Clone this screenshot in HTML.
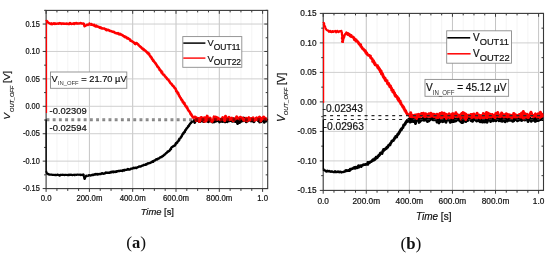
<!DOCTYPE html>
<html><head><meta charset="utf-8"><title>Figure</title>
<style>html,body{margin:0;padding:0;background:#fff;width:550px;height:257px;overflow:hidden}svg{display:block;filter:blur(0.3px)}</style>
</head><body>
<svg width="550" height="257" viewBox="0 0 550 257" font-family="Liberation Sans, Arial, sans-serif">
<rect width="550" height="257" fill="#fff"/>
<line x1="56.93" y1="10.4" x2="56.93" y2="188.6" stroke="#f3f3f3" stroke-width="0.9"/>
<line x1="67.75" y1="10.4" x2="67.75" y2="188.6" stroke="#f3f3f3" stroke-width="0.9"/>
<line x1="78.58" y1="10.4" x2="78.58" y2="188.6" stroke="#f3f3f3" stroke-width="0.9"/>
<line x1="100.23" y1="10.4" x2="100.23" y2="188.6" stroke="#f3f3f3" stroke-width="0.9"/>
<line x1="111.05" y1="10.4" x2="111.05" y2="188.6" stroke="#f3f3f3" stroke-width="0.9"/>
<line x1="121.88" y1="10.4" x2="121.88" y2="188.6" stroke="#f3f3f3" stroke-width="0.9"/>
<line x1="143.53" y1="10.4" x2="143.53" y2="188.6" stroke="#f3f3f3" stroke-width="0.9"/>
<line x1="154.35" y1="10.4" x2="154.35" y2="188.6" stroke="#f3f3f3" stroke-width="0.9"/>
<line x1="165.18" y1="10.4" x2="165.18" y2="188.6" stroke="#f3f3f3" stroke-width="0.9"/>
<line x1="186.83" y1="10.4" x2="186.83" y2="188.6" stroke="#f3f3f3" stroke-width="0.9"/>
<line x1="197.65" y1="10.4" x2="197.65" y2="188.6" stroke="#f3f3f3" stroke-width="0.9"/>
<line x1="208.48" y1="10.4" x2="208.48" y2="188.6" stroke="#f3f3f3" stroke-width="0.9"/>
<line x1="230.13" y1="10.4" x2="230.13" y2="188.6" stroke="#f3f3f3" stroke-width="0.9"/>
<line x1="240.95" y1="10.4" x2="240.95" y2="188.6" stroke="#f3f3f3" stroke-width="0.9"/>
<line x1="251.78" y1="10.4" x2="251.78" y2="188.6" stroke="#f3f3f3" stroke-width="0.9"/>
<line x1="89.4" y1="10.4" x2="89.4" y2="188.6" stroke="#c4c4c4" stroke-width="1"/>
<line x1="132.7" y1="10.4" x2="132.7" y2="188.6" stroke="#c4c4c4" stroke-width="1"/>
<line x1="176" y1="10.4" x2="176" y2="188.6" stroke="#c4c4c4" stroke-width="1"/>
<line x1="219.3" y1="10.4" x2="219.3" y2="188.6" stroke="#c4c4c4" stroke-width="1"/>
<line x1="262.6" y1="10.4" x2="262.6" y2="188.6" stroke="#c4c4c4" stroke-width="1"/>
<line x1="46.1" y1="24.04" x2="267.7" y2="24.04" stroke="#cccccc" stroke-width="0.95"/>
<line x1="46.1" y1="51.46" x2="267.7" y2="51.46" stroke="#cccccc" stroke-width="0.95"/>
<line x1="46.1" y1="78.88" x2="267.7" y2="78.88" stroke="#cccccc" stroke-width="0.95"/>
<line x1="46.1" y1="106.3" x2="267.7" y2="106.3" stroke="#cccccc" stroke-width="0.95"/>
<line x1="46.1" y1="133.72" x2="267.7" y2="133.72" stroke="#cccccc" stroke-width="0.95"/>
<line x1="46.1" y1="161.14" x2="267.7" y2="161.14" stroke="#cccccc" stroke-width="0.95"/>
<rect x="46.1" y="10.4" width="221.6" height="178.2" fill="none" stroke="#383838" stroke-width="1.1"/>
<line x1="46.1" y1="188.6" x2="46.1" y2="191.9" stroke="#383838" stroke-width="1"/>
<line x1="46.1" y1="10.4" x2="46.1" y2="13.8" stroke="#383838" stroke-width="1"/>
<line x1="56.93" y1="188.6" x2="56.93" y2="190.9" stroke="#383838" stroke-width="1"/>
<line x1="56.93" y1="10.4" x2="56.93" y2="12.4" stroke="#383838" stroke-width="1"/>
<line x1="67.75" y1="188.6" x2="67.75" y2="190.9" stroke="#383838" stroke-width="1"/>
<line x1="67.75" y1="10.4" x2="67.75" y2="12.4" stroke="#383838" stroke-width="1"/>
<line x1="78.58" y1="188.6" x2="78.58" y2="190.9" stroke="#383838" stroke-width="1"/>
<line x1="78.58" y1="10.4" x2="78.58" y2="12.4" stroke="#383838" stroke-width="1"/>
<line x1="89.4" y1="188.6" x2="89.4" y2="191.9" stroke="#383838" stroke-width="1"/>
<line x1="89.4" y1="10.4" x2="89.4" y2="13.8" stroke="#383838" stroke-width="1"/>
<line x1="100.23" y1="188.6" x2="100.23" y2="190.9" stroke="#383838" stroke-width="1"/>
<line x1="100.23" y1="10.4" x2="100.23" y2="12.4" stroke="#383838" stroke-width="1"/>
<line x1="111.05" y1="188.6" x2="111.05" y2="190.9" stroke="#383838" stroke-width="1"/>
<line x1="111.05" y1="10.4" x2="111.05" y2="12.4" stroke="#383838" stroke-width="1"/>
<line x1="121.88" y1="188.6" x2="121.88" y2="190.9" stroke="#383838" stroke-width="1"/>
<line x1="121.88" y1="10.4" x2="121.88" y2="12.4" stroke="#383838" stroke-width="1"/>
<line x1="132.7" y1="188.6" x2="132.7" y2="191.9" stroke="#383838" stroke-width="1"/>
<line x1="132.7" y1="10.4" x2="132.7" y2="13.8" stroke="#383838" stroke-width="1"/>
<line x1="143.53" y1="188.6" x2="143.53" y2="190.9" stroke="#383838" stroke-width="1"/>
<line x1="143.53" y1="10.4" x2="143.53" y2="12.4" stroke="#383838" stroke-width="1"/>
<line x1="154.35" y1="188.6" x2="154.35" y2="190.9" stroke="#383838" stroke-width="1"/>
<line x1="154.35" y1="10.4" x2="154.35" y2="12.4" stroke="#383838" stroke-width="1"/>
<line x1="165.18" y1="188.6" x2="165.18" y2="190.9" stroke="#383838" stroke-width="1"/>
<line x1="165.18" y1="10.4" x2="165.18" y2="12.4" stroke="#383838" stroke-width="1"/>
<line x1="176" y1="188.6" x2="176" y2="191.9" stroke="#383838" stroke-width="1"/>
<line x1="176" y1="10.4" x2="176" y2="13.8" stroke="#383838" stroke-width="1"/>
<line x1="186.83" y1="188.6" x2="186.83" y2="190.9" stroke="#383838" stroke-width="1"/>
<line x1="186.83" y1="10.4" x2="186.83" y2="12.4" stroke="#383838" stroke-width="1"/>
<line x1="197.65" y1="188.6" x2="197.65" y2="190.9" stroke="#383838" stroke-width="1"/>
<line x1="197.65" y1="10.4" x2="197.65" y2="12.4" stroke="#383838" stroke-width="1"/>
<line x1="208.48" y1="188.6" x2="208.48" y2="190.9" stroke="#383838" stroke-width="1"/>
<line x1="208.48" y1="10.4" x2="208.48" y2="12.4" stroke="#383838" stroke-width="1"/>
<line x1="219.3" y1="188.6" x2="219.3" y2="191.9" stroke="#383838" stroke-width="1"/>
<line x1="219.3" y1="10.4" x2="219.3" y2="13.8" stroke="#383838" stroke-width="1"/>
<line x1="230.13" y1="188.6" x2="230.13" y2="190.9" stroke="#383838" stroke-width="1"/>
<line x1="230.13" y1="10.4" x2="230.13" y2="12.4" stroke="#383838" stroke-width="1"/>
<line x1="240.95" y1="188.6" x2="240.95" y2="190.9" stroke="#383838" stroke-width="1"/>
<line x1="240.95" y1="10.4" x2="240.95" y2="12.4" stroke="#383838" stroke-width="1"/>
<line x1="251.78" y1="188.6" x2="251.78" y2="190.9" stroke="#383838" stroke-width="1"/>
<line x1="251.78" y1="10.4" x2="251.78" y2="12.4" stroke="#383838" stroke-width="1"/>
<line x1="262.6" y1="188.6" x2="262.6" y2="191.9" stroke="#383838" stroke-width="1"/>
<line x1="262.6" y1="10.4" x2="262.6" y2="13.8" stroke="#383838" stroke-width="1"/>
<line x1="42.7" y1="188.56" x2="46.1" y2="188.56" stroke="#383838" stroke-width="1"/>
<line x1="264.3" y1="188.56" x2="267.7" y2="188.56" stroke="#383838" stroke-width="1"/>
<line x1="44.1" y1="174.85" x2="46.1" y2="174.85" stroke="#383838" stroke-width="1"/>
<line x1="265.7" y1="174.85" x2="267.7" y2="174.85" stroke="#383838" stroke-width="1"/>
<line x1="42.7" y1="161.14" x2="46.1" y2="161.14" stroke="#383838" stroke-width="1"/>
<line x1="264.3" y1="161.14" x2="267.7" y2="161.14" stroke="#383838" stroke-width="1"/>
<line x1="44.1" y1="147.43" x2="46.1" y2="147.43" stroke="#383838" stroke-width="1"/>
<line x1="265.7" y1="147.43" x2="267.7" y2="147.43" stroke="#383838" stroke-width="1"/>
<line x1="42.7" y1="133.72" x2="46.1" y2="133.72" stroke="#383838" stroke-width="1"/>
<line x1="264.3" y1="133.72" x2="267.7" y2="133.72" stroke="#383838" stroke-width="1"/>
<line x1="44.1" y1="120.01" x2="46.1" y2="120.01" stroke="#383838" stroke-width="1"/>
<line x1="265.7" y1="120.01" x2="267.7" y2="120.01" stroke="#383838" stroke-width="1"/>
<line x1="42.7" y1="106.3" x2="46.1" y2="106.3" stroke="#383838" stroke-width="1"/>
<line x1="264.3" y1="106.3" x2="267.7" y2="106.3" stroke="#383838" stroke-width="1"/>
<line x1="44.1" y1="92.59" x2="46.1" y2="92.59" stroke="#383838" stroke-width="1"/>
<line x1="265.7" y1="92.59" x2="267.7" y2="92.59" stroke="#383838" stroke-width="1"/>
<line x1="42.7" y1="78.88" x2="46.1" y2="78.88" stroke="#383838" stroke-width="1"/>
<line x1="264.3" y1="78.88" x2="267.7" y2="78.88" stroke="#383838" stroke-width="1"/>
<line x1="44.1" y1="65.17" x2="46.1" y2="65.17" stroke="#383838" stroke-width="1"/>
<line x1="265.7" y1="65.17" x2="267.7" y2="65.17" stroke="#383838" stroke-width="1"/>
<line x1="42.7" y1="51.46" x2="46.1" y2="51.46" stroke="#383838" stroke-width="1"/>
<line x1="264.3" y1="51.46" x2="267.7" y2="51.46" stroke="#383838" stroke-width="1"/>
<line x1="44.1" y1="37.75" x2="46.1" y2="37.75" stroke="#383838" stroke-width="1"/>
<line x1="265.7" y1="37.75" x2="267.7" y2="37.75" stroke="#383838" stroke-width="1"/>
<line x1="42.7" y1="24.04" x2="46.1" y2="24.04" stroke="#383838" stroke-width="1"/>
<line x1="264.3" y1="24.04" x2="267.7" y2="24.04" stroke="#383838" stroke-width="1"/>
<line x1="44.1" y1="10.33" x2="46.1" y2="10.33" stroke="#383838" stroke-width="1"/>
<line x1="265.7" y1="10.33" x2="267.7" y2="10.33" stroke="#383838" stroke-width="1"/>
<line x1="46.15" y1="119.5" x2="46.15" y2="171" stroke="#000" stroke-width="1.25"/><polyline fill="none" stroke="#000" stroke-width="2.2" stroke-linejoin="round" points="46.15,171 46.3,171.5 46.44,172.06 46.69,172.93 47.29,173.7 47.66,173.73 48.36,174.3 48.66,173.97 49,174.43 49.55,174.72 49.95,174.77 50.54,174.61 51,174.68 51.51,174.57 51.99,174.82 52.57,174.84 53.07,174.77 53.51,174.88 54.09,174.88 54.5,175.07 55.19,174.84 55.39,175.04 55.99,174.94 56.48,175.09 57.13,174.81 57.36,174.57 57.95,174.87 58.5,174.95 58.85,175.19 59.56,175.59 59.94,174.85 60.28,174.9 60.89,175.07 61.39,174.88 62,174.86 62.65,174.72 62.95,174.71 63.56,174.96 64,175 64.54,175.05 65.06,174.75 65.38,174.81 65.95,174.92 66.53,174.98 67.03,174.8 67.33,174.91 68,175.22 68.58,174.88 68.93,174.62 69.3,175.08 70.16,174.72 70.4,175 71.07,174.89 71.5,174.71 72,174.94 72.51,175.17 73.02,174.82 73.42,174.77 73.93,174.8 74.71,175.21 74.72,174.76 75.56,174.75 76.07,174.7 76.44,174.94 76.9,174.76 77.39,174.72 78.15,174.69 78.65,174.74 78.92,174.86 79.56,174.78 80.1,174.55 80.8,175.04 81.15,174.72 81.79,174.79 82.23,175.06 82.82,174.61 83.35,174.4 83.71,174.88 83.91,175.53 84.02,175.86 84.12,176.42 84,176.88 84.24,177.67 84.32,178.1 84.35,178.74 84.67,178.89 84.79,178.9 85.04,178.37 85.04,177.24 85.36,177.23 85.65,176.67 85.94,176.19 86.25,175.6 86.82,176.02 87.6,175.4"/><polyline fill="none" stroke="#000" stroke-width="2.4" stroke-linejoin="round" points="87.6,175.4 88.13,175.37 88.34,175.62 88.87,175.19 89.52,175.34 89.94,175.32 90.84,175.45 91.54,175.16 92.33,174.82 92.97,175.04 93.78,174.72 94.18,174.46 94.92,174.7 95.5,174.04 96.06,174.33 96.8,174 97.36,174.52 98.03,174.03 98.54,174.31 99.3,174.18 99.66,173.91 100.39,173.96 100.81,174.06 101.47,173.53 102.22,173.17 102.68,173.64 103.45,173.76 103.96,173.48 104.32,173.46 105.13,173.28 105.68,172.58 106.32,172.86 106.81,172.71 107.31,172.8 108.02,172.76 108.61,172.63 109.4,172.68 110.08,172.26 110.79,172.53 111.24,171.74 111.7,172.17 112.46,171.72 112.98,171.58 113.31,172.14 113.97,171.66 114.95,171.72 115.17,172.08 116.12,171.34 116.73,171.79 117.37,171.12 117.96,171.21 118.7,170.93 119.31,171.09 119.84,170.84 120.73,170.68 120.98,170.66 121.82,170.94 122.37,171.03 122.79,170.29 123.91,170.63 124.13,169.98 124.73,170.23 125.42,169.9 126.23,169.9 126.84,169.74 127.4,169.51 127.81,168.95 128.55,169.56 129.31,169.38 129.97,169.44 130.47,169.23 131,168.66 131.56,168.58 132.29,168.42 132.86,168.48 133.5,167.78 134.26,168.17 134.65,168.1 135.59,167.62 136.17,167.83 136.44,168.01 137.2,167.41 137.81,167.29 138.36,167.03 138.9,166.43 139.52,166.45 140.15,166.35 140.68,166.5 141.21,166.2 141.72,165.84 142.32,165.65 142.87,165.6 143.56,165.05 143.98,164.97 144.61,164.89 145.2,164.79 145.75,164.23 146.43,164.6 146.98,163.75 147.76,163.43 148.14,163.2 148.44,163.48 149.3,163.18 149.75,162.98 150.29,162.85 150.82,162.44 151.28,162.26 151.88,162.05 152.54,161.32 153.18,161.74 153.72,160.92 154.19,160.65 154.49,160.51 155.22,160.25 155.73,159.74 156.36,159.25 157.24,159.54 157.71,159.05 157.86,158.71 158.66,158.53 159.13,158.12 159.45,158.1 159.97,157.33 160.61,157.25 161.46,157.17 161.87,156.45 162.38,156.43 162.71,156.11 163.47,155.67 163.6,155.33 164.29,154.92 164.53,154.48 164.94,154.39 165.58,153.75 166.25,152.92 166.49,152.88 167.12,152.51 167.62,151.45 168.31,151.56 168.74,151.12 169.18,150.8 169.65,150.61 170.06,150.06 170.21,149.44 170.99,149.16 171.04,148.23 171.43,147.48 172.23,147.03 172.74,146.54 172.82,146.49 173.48,146.19 173.96,145.83 175.18,145.31 175.44,144.18 175.73,144.06 175.88,143.3 176.36,143.45 176.63,143.29 177.44,142.45 177.33,141.73 177.82,141.4 178.22,141.1 178.62,140.17 179.14,140.49 179.35,138.6 179.83,138.54 180.37,138.18 180.61,137.93 180.84,137.26 181.36,136.79 181.5,136.32 181.93,135.99 182.16,135.12 182.54,134.46 183.1,133.37 183.3,133.67 183.73,133.26 183.72,132.57 184.44,131.9 184.95,131.85 184.91,131.3 185.45,129.92 185.82,130.01 186.12,129.4 186.54,128.49 186.92,128.2 187.24,127.89 187.63,127.32 188.06,126.91 188.29,126.08 188.7,126.17 189.1,125.51 189.29,124.68 189.73,124.43 189.84,124.15 190.49,123.22 190.7,123.19 191.38,122.37 191.81,121.91 192.44,121.49 192.61,121.15 192.8,120.8"/><polyline fill="none" stroke="#000" stroke-width="2.9" stroke-linejoin="round" points="192.8,120.6 193.63,120.59 194.29,121.45 194.76,122.46 195.45,119.88 196.43,120.47 197.07,120.57 197.73,118.4 198.63,119.55 199.23,121.61 199.89,120.52 200.48,121.35 201.21,120.02 201.85,119.89 202.54,120.26 203.14,121.47 203.96,121.53 204.57,119.96 205.4,120.42 206.07,120.8 207.06,120.69 207.47,121.05 208.23,121.68 209.02,121.26 209.41,120.13 210.41,120.18 211.1,120.14 211.69,121.7 212.65,121.99 213.29,121.81 214.13,121.83 214.56,120.78 215.15,121.26 215.86,118.78 216.72,121 217.14,118.8 218.05,120.2 218.85,120.51 219.5,121.98 220.04,121.27 220.9,119.21 221.66,121.33 222.37,121.24 222.77,121.49 223.74,119.71 224.2,121.24 225.03,121.91 225.82,120.29 226.32,121.42 227.2,121.69 227.86,119.67 228.52,118.04 229.21,120.76 229.98,120.17 230.82,120.6 231.37,120.52 232.35,121.17 232.87,120.15 233.67,118.73 234.37,121.3 234.79,120.48 235.71,121.56 236.14,119.54 237,121.06 237.65,123.54 238.41,119.93 239.02,118.62 239.81,122.43 240.38,119.84 241.31,121.2 241.89,120.83 242.68,120.88 243.41,119.75 243.88,118.1 244.73,120.18 245.48,119.19 246.2,121.74 246.94,120.79 247.41,120.99 248.4,120.29 248.96,119.22 249.55,120.08 250.37,119.36 251.09,120.88 251.72,118.86 252.57,120.92 253.26,121.29 253.96,121.78 254.57,119.58 254.98,119.7 256.22,118.58 256.4,119.23 257.56,119.84 258.12,120.46 258.77,120.2 259.57,121.97 260.29,120.41 260.86,121.74 261.62,120.82 262.42,119.74 262.91,120.31 263.54,118.58 264.26,122.26 265.05,121 265.87,121.09 266.46,119.61 267.2,120.5"/>
<line x1="46.5" y1="113" x2="46.5" y2="21" stroke="#ff0000" stroke-width="1.25"/><polyline fill="none" stroke="#ff0000" stroke-width="2.4" stroke-linejoin="round" points="46.5,21 46.5,20.9 47.22,21.24 47.62,22.03 48.34,22.69 48.67,22.9 49.43,23.32 49.95,23.58 50.33,23.57 50.88,23.95 51.55,23.35 51.99,24.3 52.16,23.67 52.95,23.89 53.76,23.82 53.95,23.13 54.71,24 54.85,23.75 55.39,23.4 56.07,23.72 56.52,23.71 56.88,23.77 57.2,23.68 58.11,23.42 58.69,23.83 59.12,23.21 59.6,23.38 59.89,23.09 60.25,23.58 61.29,23.38 61.55,23.99 61.93,23.55 62.88,23.53 63.11,23.81 63.52,23.54 63.95,23.83 64.49,23.71 64.91,23.62 65.51,23.83 66.06,23.94 66.56,23.38 67.17,23.74 67.57,23.71 68.16,24.04 68.75,23.58 68.99,23.55 69.51,23.92 70,23.13 70.73,23.65 70.83,23.46 71.55,23.97 72.01,23.89 72.52,23.61 72.91,23.57 73.38,23.76 73.98,23.23 74.1,24.15 74.67,23.2 75.41,23.6 76.11,22.99 76.83,23.15 77.09,23.67 77.63,23.42 77.79,23.58 78.39,23.39 78.97,23.43 79.56,23.44 80.24,23.27 80.49,22.98 81.24,23.07 81.71,23.45 82.27,23.36 82.78,23.75 83.42,24.01 83.52,23.52 84,23.88 84.08,24.74 84.14,24.99 84.44,26.26 84.92,25.8 85.69,25.71 86.15,25.22 86.39,25.18 87.1,24.53 87.84,24.98 87.97,24.8 88.76,24.58 89.14,24.48 89.44,23.52 90.2,24.4"/><polyline fill="none" stroke="#ff0000" stroke-width="2.6" stroke-linejoin="round" points="90.2,24.4 90.8,24.59 91.31,24.06 91.52,24.71 92.13,24.63 93.1,24.97 93.77,25.39 94.12,24.9 95.15,26.07 95.78,26.47 96.38,25.73 96.8,26.47 97.36,26.29 98.1,26.76 98.84,27.1 99.35,27.1 99.87,27.75 100.66,27.42 101.01,28.1 101.47,28.24 102.04,28.36 102.85,28.52 103.41,28.54 103.83,28.51 104.47,28.6 105.07,29.22 105.92,29.31 106.18,30.02 106.74,30.15 107.54,29.76 107.98,30.21 108.74,30.15 109.23,30.35 110.07,30.96 110.55,30.95 111.09,31.17 111.63,31.23 112.4,31.79 113.07,31.77 113.87,32.19 114.22,32.17 114.77,32.54 115.64,33.08 116.05,33.12 116.8,33.35 117.19,33.5 117.96,33.06 118.28,33.69 119.05,34.29 119.57,33.82 120.32,34.4 120.69,34.14 121.52,34.9 121.42,34.85 122.44,34.99 123.18,35.88 123.3,35.99 123.9,36.37 124.52,36.35 124.96,37.11 125.64,36.74 126.05,37.35 126.73,37.43 127.27,38.41 127.82,38.54 127.87,38.05 128.38,38.76 129.04,38.99 129.43,39.21 129.95,39.38 130.63,40.82 131.43,40.94 132.02,41.12 132.63,41.75 132.86,41.89 133.5,42.13 134,42.91 134.37,42.88 135.11,43.89 135.32,44.05 136.07,42.98 136.37,43.06 136.79,43.17 137.42,43.96 137.92,44.12 138.49,44.89 138.79,45.37 139.36,45.86 139.9,46.26 139.98,46.47 140.72,46.83 141.26,47.41 141.63,48.05 141.95,48.17 142.56,48.92 142.93,48.67 143.82,49.24 143.82,49.97 144.61,50.09 145.13,50.73 145.66,50.81 145.68,51.22 146.35,51.59 147.06,52.52 147.38,52.37 147.59,53.16 148.24,52.98 148.6,54.11 149.1,53.72 149.37,54.83 149.74,55.41 150.29,56.18 150.68,56.35 150.75,57.02 151.26,57.51 151.59,57.58 151.98,58.81 152.75,59.72 152.89,59.64 153.08,60.79 153.4,60.39 153.61,60.73 154.1,61.7 154.59,62.22 154.85,62.42 155.15,63.09 155.66,63.43 156.03,64.15 156.49,65 156.57,64.87 157.07,65.62 157.25,66.46 157.77,66.54 158.28,67.52 158.38,67.34 158.88,67.88 159.04,68.75 159.5,68.93 159.7,69.91 160.21,70.04 160.64,70.67 160.91,70.9 161.36,71.02 161.41,72.44 162.25,72.42 162.23,73.07 162.72,73.97 163.26,74.54 163.78,74.44 164.29,75.16 164.59,75.82 165.13,76.56 165.44,76.72 165.79,77.06 166.23,77.72 166.65,77.94 166.87,78.22 167.18,79.22 168.03,79.41 168.31,79.63 168.53,80 168.72,80.4 169.12,81.09 169.83,82.1 170.07,82.48 170.58,83.16 170.67,83.25 171.36,83.86 171.81,84.21 172.11,84.95 172.65,85.43 172.99,85.89 173.49,86.19 174.22,87.27 174.1,87.22 174.47,87.7 175.07,88.25 175.46,88.65 175.92,89.68 176.14,90.5 176.2,91.13 176.59,91.04 177.01,91.61 177.42,91.92 177.55,92.98 177.65,93.24 178.08,92.87 178.43,94.23 178.63,94.34 179.12,95.74 179.28,95.95 179.84,96.55 179.92,97.12 180.18,97.54 180.74,97.94 180.97,98.44 181.28,99.52 181.57,99.82 181.93,99.76 181.96,100.5 182.52,100.77 182.83,102.08 183.34,102.15 183.53,102.77 184.12,103.7 184.39,102.98 184.72,104.38 185.01,104.74 185.46,105.78 185.72,106.31 186.07,106.62 186.62,106.58 186.69,107.54 187.06,108.06 187.37,107.95 187.53,108.74 187.76,109.1 188.28,110.36 188.66,110.67 188.9,110.86 189.34,111.44 189.72,111.77 190.34,113.32 190.6,113.99 191.03,113.93 191.28,114.93 191.64,114.94 192.01,116.19 192.28,116.13 192.86,117 193.45,117.87 193.93,118.09 194.2,118.4"/><polyline fill="none" stroke="#ff0000" stroke-width="3.0" stroke-linejoin="round" points="194.2,118.6 194.78,116.96 195.58,117.11 196.18,120.45 197.25,119.88 197.74,118.36 198.7,119.39 199.38,121.45 199.95,120.81 200.5,117.85 201.37,117.52 201.96,119.13 202.82,119.88 203.45,118.13 204.26,121.32 204.84,117.82 205.59,121.11 206.54,120.33 207.24,116.11 207.65,118.65 208.56,118.25 209.25,119.35 210.06,118.03 210.83,120.7 211.55,120.1 212.11,121.41 212.8,119.96 213.54,119.56 214.11,116.85 214.6,119.49 215.75,117.17 216.21,117.63 216.92,119.35 217.62,117.87 218.32,118.39 219.29,119.12 220,119.33 220.61,119.79 221.19,119.6 221.96,119.41 222.73,117.57 223.39,119.59 223.73,118.23 224.75,120.66 225.54,116.29 226.26,118.06 227.02,118.78 227.62,119.18 228.44,119.08 229.14,117.34 229.64,119.73 230.36,118.9 231.24,118.97 231.92,118.08 232.62,120.03 233.24,120.78 234.25,119.73 234.64,118.93 235.44,118.91 236.05,118.16 236.66,116.79 237.35,117.67 238.28,118.37 238.75,118.44 239.63,119.19 240.34,117.22 240.95,117.61 241.83,118.01 242.4,117.91 243.27,119.12 243.73,120.32 244.6,120.32 245.4,120.33 245.98,118.26 246.73,118.55 247.4,120.88 248.41,118.1 248.81,117.71 249.36,118.88 250.35,119.85 250.94,118.8 251.43,118.7 252.2,119.19 253.1,117.75 253.66,120.01 254.68,120.27 255.17,119.11 255.83,119.14 256.67,117.88 257.24,119.77 257.93,118.42 258.6,118.06 259.53,117.1 260.13,118.48 260.78,121.05 261.38,119.59 262.33,118.15 262.78,118.59 263.7,117.06 264.45,117.78 265.04,119.22 265.87,118.81 266.38,118.93 267.2,118.9"/>
<line x1="46.5" y1="119.0" x2="267.7" y2="119.0" stroke="#000" stroke-opacity="0.48" stroke-width="1.5" stroke-dasharray="2.9 3.3"/>
<line x1="46.5" y1="120.5" x2="267.7" y2="120.5" stroke="#000" stroke-opacity="0.48" stroke-width="1.5" stroke-dasharray="2.9 3.3"/>
<text transform="translate(39.8,26.79) scale(1,1.15)" font-size="7.4" text-anchor="end" fill="#111" stroke="#111" stroke-width="0.2" >0.15</text>
<text transform="translate(39.8,54.21) scale(1,1.15)" font-size="7.4" text-anchor="end" fill="#111" stroke="#111" stroke-width="0.2" >0.10</text>
<text transform="translate(39.8,81.63) scale(1,1.15)" font-size="7.4" text-anchor="end" fill="#111" stroke="#111" stroke-width="0.2" >0.05</text>
<text transform="translate(39.8,109.05) scale(1,1.15)" font-size="7.4" text-anchor="end" fill="#111" stroke="#111" stroke-width="0.2" >0.00</text>
<text transform="translate(39.8,136.47) scale(1,1.15)" font-size="7.4" text-anchor="end" fill="#111" stroke="#111" stroke-width="0.2" >-0.05</text>
<text transform="translate(39.8,163.89) scale(1,1.15)" font-size="7.4" text-anchor="end" fill="#111" stroke="#111" stroke-width="0.2" >-0.10</text>
<text transform="translate(39.8,191.31) scale(1,1.15)" font-size="7.4" text-anchor="end" fill="#111" stroke="#111" stroke-width="0.2" >-0.15</text>
<text transform="translate(46.1,200.9) scale(1,1.1)" font-size="7.8" text-anchor="middle" fill="#111" stroke="#111" stroke-width="0.2" >0.0</text>
<text transform="translate(89.4,200.9) scale(1,1.1)" font-size="7.8" text-anchor="middle" fill="#111" stroke="#111" stroke-width="0.2" >200.0m</text>
<text transform="translate(132.7,200.9) scale(1,1.1)" font-size="7.8" text-anchor="middle" fill="#111" stroke="#111" stroke-width="0.2" >400.0m</text>
<text transform="translate(176,200.9) scale(1,1.1)" font-size="7.8" text-anchor="middle" fill="#111" stroke="#111" stroke-width="0.2" >600.0m</text>
<text transform="translate(219.3,200.9) scale(1,1.1)" font-size="7.8" text-anchor="middle" fill="#111" stroke="#111" stroke-width="0.2" >800.0m</text>
<text transform="translate(262.6,200.9) scale(1,1.1)" font-size="7.8" text-anchor="middle" fill="#111" stroke="#111" stroke-width="0.2" >1.0</text>
<text transform="translate(49.6,114.4) scale(1,1.06)" font-size="9.4" text-anchor="start" fill="#111" stroke="#111" stroke-width="0.2" >-0.02309</text>
<text transform="translate(49.6,130.8) scale(1,1.06)" font-size="9.4" text-anchor="start" fill="#111" stroke="#111" stroke-width="0.2" >-0.02594</text>
<rect x="50.5" y="72" width="76.3" height="16.3" fill="#fff" stroke="#8c8c8c" stroke-width="0.9"/>
<text transform="translate(51.6,82.1) scale(1,1.02)" font-size="9.3" text-anchor="start" fill="#111" stroke="#111" stroke-width="0.2" >V<tspan font-size="5.9" dy="3.3" stroke-width="0" fill="#333">IN_OFF</tspan><tspan dy="-3.3"> = 21.70 µV</tspan></text>
<rect x="182.8" y="36.6" width="59" height="30.7" fill="#fff" stroke="#8c8c8c" stroke-width="0.9"/>
<line x1="183.3" y1="43.1" x2="205.4" y2="43.1" stroke="#000" stroke-width="1.5"/>
<line x1="183.3" y1="58.1" x2="205.4" y2="58.1" stroke="#ff0000" stroke-width="1.4"/>
<text transform="translate(207.5,46.2) scale(1,1.06)" font-size="9.3" text-anchor="start" fill="#111" stroke="#111" stroke-width="0.2" >V<tspan font-size="8.5" dy="3.3">OUT11</tspan></text>
<text transform="translate(207.5,61.6) scale(1,1.06)" font-size="9.3" text-anchor="start" fill="#111" stroke="#111" stroke-width="0.2" >V<tspan font-size="8.5" dy="3.3">OUT22</tspan></text>
<text transform="translate(157.3,214.9) scale(1,1.06)" font-size="9.4" text-anchor="middle" fill="#111" stroke="#111" stroke-width="0.2" ><tspan font-style="italic">Time</tspan> [s]</text>
<text transform="translate(10.3,119.4) rotate(-90)" font-size="9.9" fill="#111" stroke="#111" stroke-width="0.2"><tspan font-style="italic">V</tspan><tspan font-size="5.6" dx="0.9" dy="3.4" font-style="italic" stroke-width="0.12">OUT_OFF</tspan><tspan dy="-3.4"> [V]</tspan></text>
<line x1="333.97" y1="13.4" x2="333.97" y2="190.4" stroke="#f3f3f3" stroke-width="0.9"/>
<line x1="344.74" y1="13.4" x2="344.74" y2="190.4" stroke="#f3f3f3" stroke-width="0.9"/>
<line x1="355.51" y1="13.4" x2="355.51" y2="190.4" stroke="#f3f3f3" stroke-width="0.9"/>
<line x1="377.05" y1="13.4" x2="377.05" y2="190.4" stroke="#f3f3f3" stroke-width="0.9"/>
<line x1="387.82" y1="13.4" x2="387.82" y2="190.4" stroke="#f3f3f3" stroke-width="0.9"/>
<line x1="398.59" y1="13.4" x2="398.59" y2="190.4" stroke="#f3f3f3" stroke-width="0.9"/>
<line x1="420.13" y1="13.4" x2="420.13" y2="190.4" stroke="#f3f3f3" stroke-width="0.9"/>
<line x1="430.9" y1="13.4" x2="430.9" y2="190.4" stroke="#f3f3f3" stroke-width="0.9"/>
<line x1="441.67" y1="13.4" x2="441.67" y2="190.4" stroke="#f3f3f3" stroke-width="0.9"/>
<line x1="463.21" y1="13.4" x2="463.21" y2="190.4" stroke="#f3f3f3" stroke-width="0.9"/>
<line x1="473.98" y1="13.4" x2="473.98" y2="190.4" stroke="#f3f3f3" stroke-width="0.9"/>
<line x1="484.75" y1="13.4" x2="484.75" y2="190.4" stroke="#f3f3f3" stroke-width="0.9"/>
<line x1="506.29" y1="13.4" x2="506.29" y2="190.4" stroke="#f3f3f3" stroke-width="0.9"/>
<line x1="517.06" y1="13.4" x2="517.06" y2="190.4" stroke="#f3f3f3" stroke-width="0.9"/>
<line x1="527.83" y1="13.4" x2="527.83" y2="190.4" stroke="#f3f3f3" stroke-width="0.9"/>
<line x1="366.28" y1="13.4" x2="366.28" y2="190.4" stroke="#c4c4c4" stroke-width="1"/>
<line x1="409.36" y1="13.4" x2="409.36" y2="190.4" stroke="#c4c4c4" stroke-width="1"/>
<line x1="452.44" y1="13.4" x2="452.44" y2="190.4" stroke="#c4c4c4" stroke-width="1"/>
<line x1="495.52" y1="13.4" x2="495.52" y2="190.4" stroke="#c4c4c4" stroke-width="1"/>
<line x1="538.6" y1="13.4" x2="538.6" y2="190.4" stroke="#c4c4c4" stroke-width="1"/>
<line x1="323.2" y1="42.9" x2="543.5" y2="42.9" stroke="#cccccc" stroke-width="0.95"/>
<line x1="323.2" y1="72.4" x2="543.5" y2="72.4" stroke="#cccccc" stroke-width="0.95"/>
<line x1="323.2" y1="101.9" x2="543.5" y2="101.9" stroke="#cccccc" stroke-width="0.95"/>
<line x1="323.2" y1="131.4" x2="543.5" y2="131.4" stroke="#cccccc" stroke-width="0.95"/>
<line x1="323.2" y1="160.9" x2="543.5" y2="160.9" stroke="#cccccc" stroke-width="0.95"/>
<rect x="323.2" y="13.4" width="220.3" height="177" fill="none" stroke="#383838" stroke-width="1.1"/>
<line x1="323.2" y1="190.4" x2="323.2" y2="193.7" stroke="#383838" stroke-width="1"/>
<line x1="323.2" y1="13.4" x2="323.2" y2="16.8" stroke="#383838" stroke-width="1"/>
<line x1="333.97" y1="190.4" x2="333.97" y2="192.7" stroke="#383838" stroke-width="1"/>
<line x1="333.97" y1="13.4" x2="333.97" y2="15.4" stroke="#383838" stroke-width="1"/>
<line x1="344.74" y1="190.4" x2="344.74" y2="192.7" stroke="#383838" stroke-width="1"/>
<line x1="344.74" y1="13.4" x2="344.74" y2="15.4" stroke="#383838" stroke-width="1"/>
<line x1="355.51" y1="190.4" x2="355.51" y2="192.7" stroke="#383838" stroke-width="1"/>
<line x1="355.51" y1="13.4" x2="355.51" y2="15.4" stroke="#383838" stroke-width="1"/>
<line x1="366.28" y1="190.4" x2="366.28" y2="193.7" stroke="#383838" stroke-width="1"/>
<line x1="366.28" y1="13.4" x2="366.28" y2="16.8" stroke="#383838" stroke-width="1"/>
<line x1="377.05" y1="190.4" x2="377.05" y2="192.7" stroke="#383838" stroke-width="1"/>
<line x1="377.05" y1="13.4" x2="377.05" y2="15.4" stroke="#383838" stroke-width="1"/>
<line x1="387.82" y1="190.4" x2="387.82" y2="192.7" stroke="#383838" stroke-width="1"/>
<line x1="387.82" y1="13.4" x2="387.82" y2="15.4" stroke="#383838" stroke-width="1"/>
<line x1="398.59" y1="190.4" x2="398.59" y2="192.7" stroke="#383838" stroke-width="1"/>
<line x1="398.59" y1="13.4" x2="398.59" y2="15.4" stroke="#383838" stroke-width="1"/>
<line x1="409.36" y1="190.4" x2="409.36" y2="193.7" stroke="#383838" stroke-width="1"/>
<line x1="409.36" y1="13.4" x2="409.36" y2="16.8" stroke="#383838" stroke-width="1"/>
<line x1="420.13" y1="190.4" x2="420.13" y2="192.7" stroke="#383838" stroke-width="1"/>
<line x1="420.13" y1="13.4" x2="420.13" y2="15.4" stroke="#383838" stroke-width="1"/>
<line x1="430.9" y1="190.4" x2="430.9" y2="192.7" stroke="#383838" stroke-width="1"/>
<line x1="430.9" y1="13.4" x2="430.9" y2="15.4" stroke="#383838" stroke-width="1"/>
<line x1="441.67" y1="190.4" x2="441.67" y2="192.7" stroke="#383838" stroke-width="1"/>
<line x1="441.67" y1="13.4" x2="441.67" y2="15.4" stroke="#383838" stroke-width="1"/>
<line x1="452.44" y1="190.4" x2="452.44" y2="193.7" stroke="#383838" stroke-width="1"/>
<line x1="452.44" y1="13.4" x2="452.44" y2="16.8" stroke="#383838" stroke-width="1"/>
<line x1="463.21" y1="190.4" x2="463.21" y2="192.7" stroke="#383838" stroke-width="1"/>
<line x1="463.21" y1="13.4" x2="463.21" y2="15.4" stroke="#383838" stroke-width="1"/>
<line x1="473.98" y1="190.4" x2="473.98" y2="192.7" stroke="#383838" stroke-width="1"/>
<line x1="473.98" y1="13.4" x2="473.98" y2="15.4" stroke="#383838" stroke-width="1"/>
<line x1="484.75" y1="190.4" x2="484.75" y2="192.7" stroke="#383838" stroke-width="1"/>
<line x1="484.75" y1="13.4" x2="484.75" y2="15.4" stroke="#383838" stroke-width="1"/>
<line x1="495.52" y1="190.4" x2="495.52" y2="193.7" stroke="#383838" stroke-width="1"/>
<line x1="495.52" y1="13.4" x2="495.52" y2="16.8" stroke="#383838" stroke-width="1"/>
<line x1="506.29" y1="190.4" x2="506.29" y2="192.7" stroke="#383838" stroke-width="1"/>
<line x1="506.29" y1="13.4" x2="506.29" y2="15.4" stroke="#383838" stroke-width="1"/>
<line x1="517.06" y1="190.4" x2="517.06" y2="192.7" stroke="#383838" stroke-width="1"/>
<line x1="517.06" y1="13.4" x2="517.06" y2="15.4" stroke="#383838" stroke-width="1"/>
<line x1="527.83" y1="190.4" x2="527.83" y2="192.7" stroke="#383838" stroke-width="1"/>
<line x1="527.83" y1="13.4" x2="527.83" y2="15.4" stroke="#383838" stroke-width="1"/>
<line x1="538.6" y1="190.4" x2="538.6" y2="193.7" stroke="#383838" stroke-width="1"/>
<line x1="538.6" y1="13.4" x2="538.6" y2="16.8" stroke="#383838" stroke-width="1"/>
<line x1="319.8" y1="190.4" x2="323.2" y2="190.4" stroke="#383838" stroke-width="1"/>
<line x1="540.1" y1="190.4" x2="543.5" y2="190.4" stroke="#383838" stroke-width="1"/>
<line x1="321.2" y1="175.65" x2="323.2" y2="175.65" stroke="#383838" stroke-width="1"/>
<line x1="541.5" y1="175.65" x2="543.5" y2="175.65" stroke="#383838" stroke-width="1"/>
<line x1="319.8" y1="160.9" x2="323.2" y2="160.9" stroke="#383838" stroke-width="1"/>
<line x1="540.1" y1="160.9" x2="543.5" y2="160.9" stroke="#383838" stroke-width="1"/>
<line x1="321.2" y1="146.15" x2="323.2" y2="146.15" stroke="#383838" stroke-width="1"/>
<line x1="541.5" y1="146.15" x2="543.5" y2="146.15" stroke="#383838" stroke-width="1"/>
<line x1="319.8" y1="131.4" x2="323.2" y2="131.4" stroke="#383838" stroke-width="1"/>
<line x1="540.1" y1="131.4" x2="543.5" y2="131.4" stroke="#383838" stroke-width="1"/>
<line x1="321.2" y1="116.65" x2="323.2" y2="116.65" stroke="#383838" stroke-width="1"/>
<line x1="541.5" y1="116.65" x2="543.5" y2="116.65" stroke="#383838" stroke-width="1"/>
<line x1="319.8" y1="101.9" x2="323.2" y2="101.9" stroke="#383838" stroke-width="1"/>
<line x1="540.1" y1="101.9" x2="543.5" y2="101.9" stroke="#383838" stroke-width="1"/>
<line x1="321.2" y1="87.15" x2="323.2" y2="87.15" stroke="#383838" stroke-width="1"/>
<line x1="541.5" y1="87.15" x2="543.5" y2="87.15" stroke="#383838" stroke-width="1"/>
<line x1="319.8" y1="72.4" x2="323.2" y2="72.4" stroke="#383838" stroke-width="1"/>
<line x1="540.1" y1="72.4" x2="543.5" y2="72.4" stroke="#383838" stroke-width="1"/>
<line x1="321.2" y1="57.65" x2="323.2" y2="57.65" stroke="#383838" stroke-width="1"/>
<line x1="541.5" y1="57.65" x2="543.5" y2="57.65" stroke="#383838" stroke-width="1"/>
<line x1="319.8" y1="42.9" x2="323.2" y2="42.9" stroke="#383838" stroke-width="1"/>
<line x1="540.1" y1="42.9" x2="543.5" y2="42.9" stroke="#383838" stroke-width="1"/>
<line x1="321.2" y1="28.15" x2="323.2" y2="28.15" stroke="#383838" stroke-width="1"/>
<line x1="541.5" y1="28.15" x2="543.5" y2="28.15" stroke="#383838" stroke-width="1"/>
<line x1="319.8" y1="13.4" x2="323.2" y2="13.4" stroke="#383838" stroke-width="1"/>
<line x1="540.1" y1="13.4" x2="543.5" y2="13.4" stroke="#383838" stroke-width="1"/>
<line x1="323.3" y1="119.5" x2="323.3" y2="169.3" stroke="#000" stroke-width="1.25"/><polyline fill="none" stroke="#000" stroke-width="2.3" stroke-linejoin="round" points="323.3,169.3 323.5,169.2 323.85,170.03 324.3,170.08 324.73,170.53 325.19,170.4 325.8,171.13 326.29,171.52 326.62,171.01 327.18,171.27 327.59,170.69 328.19,171.39 328.9,171.23 329.38,170.94 330.2,171.79 330.62,171.56 331.1,171.37 331.42,171.71 332.15,171.36 332.59,171.76 333.19,172.11 333.84,172.18 334.64,171.63 335.02,171.1 335.29,172.17 335.86,171.91 336.41,171.98 336.91,172.07 337.44,171.62 338.21,171.51 338.69,172.05 339.21,172.23 339.55,171.63 340,171.96 340.27,172.06 340.67,171.67 341.49,172.53 342.01,172.04 342.35,172.14 342.95,172.07 343.31,171.71 344.38,171.79 344.69,171.47 344.94,171.63 345.39,170.48 346,170.8"/><polyline fill="none" stroke="#000" stroke-width="2.8" stroke-linejoin="round" points="346,170.8 346.42,170.48 346.59,170.82 347.46,170.7 348.09,170.49 348.45,170.45 349.67,170.53 350.22,169.11 350.26,169.42 351.11,169.32 351.68,168.72 352.43,168.46 352.61,168.54 353.25,168.18 354.1,167.51 354.95,168.39 355.22,167.48 356.04,167.19 356.62,167.88 357.34,167.57 357.41,167.79 358.51,165.77 359.11,166.97 359.55,166.67 360.28,165.64 361.22,166.5 361.65,165.54 362.35,165.32 363.02,164.84 363.65,164.79 364.06,164.59 364.79,164.72 365.4,164.41 365.85,164.47 366.93,164.31 367.58,163.54 367.79,164.44 367.82,162.48 369.21,162.8 369.49,162.89 369.65,162.18 370.08,162.18 371.01,161.58 371.54,161.37 372.08,160.79 372.05,160.87 372.82,159.78 373.56,160.29 374.03,159.76 374.74,159.57 374.61,158.61 375.46,158.85 375.96,158.16 376.09,157.21 377.17,157.88 377.46,157.39 377.76,156.58 378.18,156.01 378.74,155.22 378.65,155.86 379.77,154.8 380.13,153.44 380.42,153.63 380.68,152.85 382.12,153.47 381.97,152.93 382.62,151.8 382.94,150.79 383.34,151.02 383.57,149.45 384.23,150.03 385.07,149.33 384.98,149.11 386.11,148.6 386.45,147.64 386.38,148.48 387.2,147.15 387.13,147 387.72,147.34 388.12,146.13 388.58,145.34 389.13,144.81 389.69,145.08 390.24,144.67 390.17,143.96 390.37,143.57 391.31,142.24 392.05,141.27 391.73,141.13 392.31,140.82 392.93,140.65 393.35,140.68 393.55,139.78 393.99,139.47 394.9,137.76 394.73,137.67 395.55,137.28 395.68,136.45 396.66,136.98 396.61,136.02 397.49,135.19 397.39,135 397.57,134.57 397.83,133.98 398.44,134.2 399.11,132.83 399.51,131.75 399.3,132.56 399.8,131.6 400.17,131.16 400.66,129.75 400.93,129.52 401.57,129.57 401.3,128.86 401.96,128.36 402.37,128.01 402.94,127.66 403.27,126.4 403.69,125.03 403.63,125.46 404.35,125.09 404.6,124.55 405.19,124.26 405.32,123.43 405.53,122.69 405.86,122.81 406.58,121.16 406.96,121.83 407.63,121.19 407.99,119.81 408.2,120"/><polyline fill="none" stroke="#000" stroke-width="2.9" stroke-linejoin="round" points="408.2,119.8 408.74,121.03 409.18,119.76 409.33,118.92 410.06,122.06 410.32,117 410.94,118.96 411.39,121.58 411.86,119.2 412.27,119.49 412.56,118.89 413.11,121.52 413.53,119.94 414.01,119.05 414.65,120.67 414.89,120.51 415.5,123.55 415.79,121.05 416.38,119.45 416.66,117.43 417.49,120.31 417.53,120.34 418.22,118.13 418.51,118.67 419.01,122.42 419.36,119.29 420.06,121.55 420.18,118.85 420.97,119.6 421.11,120.38 421.8,120.21 422.18,119.72 422.54,119.76 422.89,118.86 423.3,118.14 424.01,120.34 424.46,119.82 424.76,119.81 425.26,119.98 425.5,119.43 426.25,118.98 426.55,119.22 427.02,117.49 427.48,121.59 427.94,121.1 428.39,121.11 428.98,120.2 429.24,120.52 429.7,119.24 430.22,119.53 430.78,119.37 431.06,118.3 431.58,118.93 432.12,118.63 432.72,118.25 433.1,119.79 433.37,118.27 434.07,119.91 434.49,119.89 434.94,118.8 435,118.85 435.69,117.1 436.14,119.46 436.62,119.65 436.99,121.95 437.42,120.13 437.88,117.42 438.27,121.79 438.88,122.88 439.38,120.4 439.72,119.81 440.08,121.59 440.48,119.6 441.44,119.95 441.41,121.41 442.04,117.41 442.35,120.75 442.92,121.61 443.42,120.78 443.72,121.31 444.39,118.88 444.53,119.63 445.07,120.31 445.96,120.26 445.97,122.24 446.48,118.17 446.96,118.54 447.46,120.23 447.66,119.83 448.29,119.64 448.87,120.14 449.16,118.43 449.53,119.02 450,120.66 450.23,122.41 450.95,121.81 451.45,118.11 451.99,119.93 452.23,121.45 452.82,119.76 453.18,120.02 453.71,121.58 454.16,117.96 454.54,119.41 455.1,120.88 455.53,120.13 455.85,120.92 456.53,119.87 456.77,118.93 457.4,118.88 457.85,119.06 458.2,119.14 458.56,120.12 459.19,118.34 459.58,119.15 459.8,120.57 460.44,121.34 460.83,119.26 461.35,119.02 461.76,122.48 462.19,118.17 462.68,122.5 463.03,122.31 463.44,118.64 464.02,118.39 464.26,119.82 464.83,118.25 465.53,119.1 465.87,121.65 466.17,120.61 466.5,120 467.2,119.43 467.59,120.63 467.94,119.31 468.43,116.4 468.91,116.83 469.24,118.98 469.83,116.92 470.35,118.59 470.95,120.58 471.09,120.71 471.91,119.31 472.06,118.24 472.63,121.21 473.05,118.59 473.57,118.62 473.92,119.28 474.12,119.72 474.86,119.24 475.2,119.57 475.89,119.38 476.09,120.4 476.65,120.95 476.85,118.84 477.38,120.29 478.1,119.98 478.28,120.46 478.95,118.28 479.32,121.01 479.99,119.34 480.26,121.81 480.76,119.08 481.15,117.92 481.73,119.93 481.81,120.35 482.55,122.12 482.74,116.89 483.22,120.54 483.7,120.7 484.47,117.44 484.7,121.95 485.23,121.81 485.61,120.31 486.27,120.55 486.79,121.7 487.08,122.21 487.55,119.08 487.85,120.68 488.25,118.24 488.69,117.71 489.4,120.06 489.64,119.97 490.13,119.18 490.62,121.48 491.05,117.36 491.41,117.4 491.84,119.86 492.54,119.53 492.97,118.58 493.38,120.88 493.88,118.52 494.28,120.21 494.8,119.75 495.14,117.88 495.88,120.77 495.85,117.59 496.48,119.39 496.98,118.59 497.35,119.34 497.84,117.8 498.42,119.74 498.87,120.66 499.05,120.03 499.41,120.52 499.96,117.68 500.61,120.64 500.89,117.18 501.33,121.1 501.84,117.27 502.21,121.3 502.98,118.71 503.05,120.45 503.78,120.66 504.11,119.12 504.58,120.72 505.15,121.68 505.63,120.89 505.8,119.23 506.28,117.81 506.77,118.14 507.43,120.98 507.78,120.64 508.22,120.14 508.53,119.07 509.02,118.11 509.49,120.18 510.18,119.98 510.48,120.32 510.92,119.75 511.37,118.33 511.86,120.61 512.17,117.66 512.74,121.4 513,117.73 513.59,118.04 513.96,120.7 514.46,117.25 515.01,116.8 515.22,118.17 515.78,117.9 516.28,119.5 516.67,119.21 517.3,120.78 517.66,119.79 518.02,120.56 518.33,118.7 519.14,118.86 519.25,118.59 519.88,119.24 520.19,120.04 520.69,120.1 521.17,118.98 521.58,118.31 521.97,120.44 522.61,119.03 523.03,119.82 523.3,117.96 523.83,119.18 524.34,117.12 524.96,120.01 525.22,119.32 525.72,118.44 526.38,119.08 526.75,118.54 526.91,119.25 527.54,120.06 528.04,121.57 528.35,119.63 528.84,118.66 529.21,119.85 529.8,118.54 530.19,118.34 530.57,119.15 531.22,121.3 531.41,119.56 531.99,119.86 532.46,119.43 533.17,118.82 533.34,120.36 533.76,119.96 534.15,118.52 534.84,120.05 535.19,121.44 535.41,120.01 536.01,117.03 536.66,120.74 536.82,119.28 537.4,119.16 537.83,118.23 538.23,120.64 538.97,119.34 539.26,120.09 539.76,118.83 540.26,117.48 540.45,119.44 540.98,118.56 541.4,116.32 541.72,119.23 542.45,119.55 542.8,119.4"/>
<line x1="323.6" y1="102.9" x2="323.6" y2="23" stroke="#ff0000" stroke-width="1.25"/><polyline fill="none" stroke="#ff0000" stroke-width="2.2" stroke-linejoin="round" points="323.6,23 323.6,22.8 324.02,23.23 324.18,23.98 323.85,24.51 324.07,25.34 324.63,25.74 324.67,26.44 324.79,26.3 325.27,27 325.51,28.09 325.75,28.88 325.98,28.82 326.24,29.36 326.59,29.85 327.07,30.25 327.98,30.6 328.17,30.7 328.6,30.67 329.05,31.74 329.6,31.39 330.49,31.86 330.58,30.97 331.16,31.97 331.76,32.08 332.02,31.52 332.37,31.02 333.33,31.25 333.33,31.88 334.01,31.59 334.36,31.41 335.38,31.26 335.15,30.85 336.04,32.25 336.63,31.48 336.96,31.34 337.17,30.87 338.22,32.08 338.4,31.44 339.12,31.81 339.5,31.46 339.98,31.04 340.43,31.29 341.16,30.94 341.45,30.93 341.64,32.11 341.97,32.81 341.84,33.59 341.87,33.36 341.83,33.84 342.14,35.17 342.38,35.55 342.08,35.35 342.13,35.6 342.7,36.2 342,37.08 342.45,37.52 341.85,38.18 342.42,39.54 342.2,38.87 342.34,39.37 342.56,40.46 342.33,40.85 342.53,41.75 342,41.77 342.96,41.94 342.66,41.62 343.03,40.77 343.16,40.09 343.2,39.5 343.17,38.81 343.61,38.49 343.75,37.58 343.72,37.96 344.44,36.42 343.82,36.22 344.51,35.66 344.36,35.1 344.95,34.37 344.86,34.2 345.09,34.37 345.74,34.34 346.15,33.25 346.33,33.04 347,33.6"/><polyline fill="none" stroke="#ff0000" stroke-width="2.9" stroke-linejoin="round" points="346,33.3 346.46,32.87 347.06,33.74 347.86,33.39 348,34.46 348.67,34.12 349.82,34.74 349.96,35.87 351.17,35.49 351.09,36.57 351.78,36.42 352.68,36.97 353.09,37.16 353.7,38.02 353.93,37.88 354.4,39.66 355.01,39.18 355.24,39.37 356.09,40.98 356.22,40.05 356.3,40.46 357.52,41.57 357.96,41.99 358.07,41.98 358.52,43.06 359.14,44.1 359.01,43.76 359.71,44.21 359.71,44.7 360.67,44.6 360.71,46.12 361.37,46.73 361.53,46.92 362.23,48.1 362.65,48.72 362.7,48.64 363.07,48.83 363.67,49.5 364.36,50.53 364.53,50.41 364.69,50.33 365.34,50.9 365.61,51.73 365.71,52.42 366.7,52.84 366.73,53.98 366.95,53.63 367.86,55 367.99,54.94 368.67,55.2 368.97,55.22 369.47,55.84 370.43,55.93 370.52,57.26 370.81,57.83 371.36,58.21 371.89,58.59 372.18,59.1 372.29,59.24 372.87,60.52 372.63,61.34 373.6,60.86 373.2,61.51 374.12,62.79 374.18,62.11 374.59,63.82 374.99,63.41 375.08,64.83 375.91,64.85 376.48,65.4 376.86,65.7 377.48,66.41 377.5,65.61 377.61,67.28 378.44,68.42 378.61,67.42 379.11,69.17 379.62,69.05 379.62,70.13 380.53,70.44 380.33,71.68 381.24,71.35 381.25,72.49 381.61,72.59 381.31,73.72 381.98,74.21 382.38,73.73 382.63,74.4 383.1,75.52 383.14,76.53 383.53,76.97 384.05,77.19 384.12,78.09 385.1,78.16 384.94,79.23 385.61,79.53 385.93,79.87 385.35,80.53 387.06,80.78 386.42,80.76 386.67,81.54 387.29,82.07 387.52,83.64 387.81,83.39 388,83.14 388.82,83.57 388.45,84.55 389.67,85.22 389.5,85.94 389.77,86.54 390.56,86.47 390.46,85.93 390.91,87.71 391.6,88.36 391.7,90.06 391.82,89.19 392.12,90.16 393.12,90.23 392.79,91.83 393.39,91.44 393.86,92.06 394.07,93.29 394.33,92.94 394.65,93.08 394.95,95.29 395.72,95.22 395.42,96.17 395.93,95.75 396.66,97.01 396.56,96.28 397.57,97.53 397.7,97.7 397.43,97.99 397.87,99.34 398.7,98.66 398.39,100.26 399.13,100.89 399.07,101.24 399.12,101.26 400.17,100.91 400.33,102.25 400.47,102.89 401.04,103.26 400.86,103.92 401.92,105.14 402.27,105.49 402.23,105.74 402.68,106.74 402.83,106.11 403.74,107.27 403.31,107.76 403.77,107.69 404.08,108.4 403.99,108.69 404.86,109.68 404.77,110.51 405.72,110.93 405.72,111.84 406.12,112.06 406.48,112.95 406.94,113.57 407.4,113.88 407.4,114.61 408.55,114.8 408.71,115.14 409.5,115.5"/><polyline fill="none" stroke="#ff0000" stroke-width="3.0" stroke-linejoin="round" points="409.5,115.5 409.83,115.91 410.51,116.51 410.69,112.87 411.26,115.67 411.65,115.48 412.3,116.69 412.79,115.59 413,116.13 413.44,116 414,116.69 414.37,115.25 414.89,117.15 415.31,114.93 415.85,116.22 416.31,116.06 416.66,118.4 417.06,114.81 417.74,116.34 417.96,115.35 418.58,114.39 419.02,116.51 419.44,114.61 419.88,115.67 420.33,116.68 420.77,116.42 421.28,115.9 421.62,113.54 422.03,114.87 422.74,115.14 423.13,114.34 423.42,113.24 423.98,115.73 424.46,116.47 424.76,115.04 425.24,116.67 425.58,113.79 426.22,114.27 426.7,115.71 427.08,114.94 427.48,116.36 427.88,116.13 428.37,115.02 428.92,113.9 429.32,114.88 429.82,116.16 430.2,116.41 430.66,114.94 430.94,113.24 431.45,113.73 431.91,116.06 432.62,115.01 433.01,115.04 433.34,114.26 433.78,114.24 434.06,116.65 434.75,116.11 435,114.72 435.56,115.62 436.07,115.83 436.49,117.68 436.99,114.14 437.58,115.82 437.91,116.65 438.18,117.5 438.66,114.66 439.06,115 439.65,116.38 440,113.54 440.67,115.95 441.37,118.22 441.36,116.08 441.96,112.65 442.32,114.43 442.81,114.7 443.29,116.96 443.6,115.31 444.12,113.27 444.84,115.45 445.19,115.7 445.38,114.85 445.89,114.22 446.33,118.4 446.77,116.66 447.37,116.79 447.77,115.32 448.28,114.65 448.53,114.92 449.15,113.8 449.6,117.66 450.06,115.37 450.51,117.29 451.06,114.98 451.57,116.11 451.68,115.78 452.48,113.69 452.71,117.86 453.36,115.02 453.53,114.04 454.04,116.4 454.51,115.53 455.15,115.99 455.51,115.66 455.88,112.77 456.19,114.4 456.75,114.35 457.08,116.77 457.63,115.58 458.26,115.09 458.75,116.26 458.95,115.33 459.52,115.24 459.81,115.78 460.42,115.66 461.06,118.94 461.25,114.39 461.67,113.56 462.33,115.97 462.56,114.56 463.07,112.64 463.48,114.11 463.98,114.36 464.27,113.17 464.74,118.42 465.56,114.06 465.65,119.46 466.28,115.05 466.57,117.88 467.24,115.21 467.55,116.13 467.88,115.36 468.46,115.22 468.88,115.86 469.52,116.18 469.89,115.76 470.3,115.62 470.78,114.57 471.45,115.41 471.69,117.67 471.96,114.52 472.58,117.16 472.79,116.2 473.5,116.8 473.84,114.05 474.35,115.9 474.79,115.15 475.27,115.21 475.39,117.54 476.17,115.23 476.56,115.95 477.09,113.18 477.32,117.88 477.91,116.72 478.28,115.47 479.01,115.1 479.51,116.34 479.81,117.14 480.26,117.91 480.62,116.67 481.02,115.64 481.41,116.89 481.98,116.61 482.54,117.14 482.99,118.01 483.35,113.43 483.74,113.97 484.33,117.6 484.58,114.61 485.01,115.6 485.64,114.65 486.13,117.12 486.54,112.46 487.01,115.66 487.16,117.74 487.93,114.76 488.49,113.42 488.86,116.06 489.31,114.79 489.69,117 490.14,115.88 490.54,114.4 491.06,115.36 491.33,116.91 492.09,115.39 492.26,114.56 492.91,115.84 493.42,115.58 493.81,116.72 494.44,116.31 494.37,115.29 495.01,117.73 495.67,115.71 495.81,113.4 496.32,113.4 496.93,116.16 497.15,115.94 497.77,112.45 498.27,114.93 498.68,116.51 499.14,116.59 499.48,116.28 500.04,115.33 500.42,116.68 500.89,116.27 501.47,115.41 501.66,112.88 501.99,113.57 502.81,114.65 503.19,115.19 503.78,117.04 504.23,115.48 504.42,115.7 504.79,114.77 505.38,114.37 506.08,116.66 506.37,113.71 506.83,114.17 507,115.4 507.6,116.83 508,114.85 508.63,114.69 509.06,115.32 509.63,116.06 509.75,115.11 510.34,117.02 510.87,117.08 511.32,115.4 511.98,118.21 512.2,115.67 512.53,117.03 513.07,116.03 513.43,116 513.73,113.43 514.37,114.07 515.11,115.18 515.21,117.07 515.73,116.05 516.25,115.2 516.64,116.42 516.99,117.02 517.89,115.59 518.2,115.88 518.55,115.71 518.91,115.51 519.43,114.53 519.91,114.43 520.33,117.05 520.79,115.2 521.3,115.17 521.59,113.11 521.91,112.9 522.64,117.43 522.8,114.61 523.37,111.58 523.94,118.85 524.39,114.83 524.75,113.48 525.23,115.72 525.73,116.65 526.05,116.49 526.78,116.8 526.93,114.28 527.47,117.39 527.89,117.48 528.4,117.55 529.03,115.94 529.18,115.1 529.79,114.98 530.27,113.48 530.78,114.86 531,112.36 531.44,113.31 531.97,115.93 532.42,115.25 532.77,115.87 533.42,116.55 533.86,116.11 534.49,115.99 534.66,115.48 535.02,114.58 535.49,113.91 536.09,115.5 536.4,115.66 537.03,116.81 537.32,115.38 537.87,116.34 538.29,113.64 538.64,115.95 539.02,115.85 539.8,117.4 540.14,115.26 540.41,112.34 540.87,115.2 541.69,116.56 541.8,114.01 542.54,115.92 542.8,115.6"/>
<line x1="323.2" y1="115.6" x2="543.5" y2="115.6" stroke="#2a2a2a" stroke-width="1.05" stroke-dasharray="3 3.9"/>
<line x1="323.2" y1="119.4" x2="543.5" y2="119.4" stroke="#2a2a2a" stroke-width="1.05" stroke-dasharray="3 3.9"/>
<text transform="translate(316.5,16.35) scale(1,1.06)" font-size="8.3" text-anchor="end" fill="#111" stroke="#111" stroke-width="0.2" >0.15</text>
<text transform="translate(316.5,45.85) scale(1,1.06)" font-size="8.3" text-anchor="end" fill="#111" stroke="#111" stroke-width="0.2" >0.10</text>
<text transform="translate(316.5,75.35) scale(1,1.06)" font-size="8.3" text-anchor="end" fill="#111" stroke="#111" stroke-width="0.2" >0.05</text>
<text transform="translate(316.5,104.85) scale(1,1.06)" font-size="8.3" text-anchor="end" fill="#111" stroke="#111" stroke-width="0.2" >0.00</text>
<text transform="translate(316.5,134.35) scale(1,1.06)" font-size="8.3" text-anchor="end" fill="#111" stroke="#111" stroke-width="0.2" >-0.05</text>
<text transform="translate(316.5,163.85) scale(1,1.06)" font-size="8.3" text-anchor="end" fill="#111" stroke="#111" stroke-width="0.2" >-0.10</text>
<text transform="translate(316.5,193.35) scale(1,1.06)" font-size="8.3" text-anchor="end" fill="#111" stroke="#111" stroke-width="0.2" >-0.15</text>
<text transform="translate(323.2,203.6) scale(1,1.06)" font-size="8.3" text-anchor="middle" fill="#111" stroke="#111" stroke-width="0.2" >0.0</text>
<text transform="translate(366.28,203.6) scale(1,1.06)" font-size="8.3" text-anchor="middle" fill="#111" stroke="#111" stroke-width="0.2" >200.0m</text>
<text transform="translate(409.36,203.6) scale(1,1.06)" font-size="8.3" text-anchor="middle" fill="#111" stroke="#111" stroke-width="0.2" >400.0m</text>
<text transform="translate(452.44,203.6) scale(1,1.06)" font-size="8.3" text-anchor="middle" fill="#111" stroke="#111" stroke-width="0.2" >600.0m</text>
<text transform="translate(495.52,203.6) scale(1,1.06)" font-size="8.3" text-anchor="middle" fill="#111" stroke="#111" stroke-width="0.2" >800.0m</text>
<text transform="translate(538.6,203.6) scale(1,1.06)" font-size="8.3" text-anchor="middle" fill="#111" stroke="#111" stroke-width="0.2" >1.0</text>
<text transform="translate(322.6,112.4) scale(1,1.08)" font-size="10.2" text-anchor="start" fill="#111" stroke="#111" stroke-width="0.2" >-0.02343</text>
<text transform="translate(323.6,129.5) scale(1,1.08)" font-size="10.2" text-anchor="start" fill="#111" stroke="#111" stroke-width="0.2" >-0.02963</text>
<rect x="425" y="79.4" width="83.6" height="16.9" fill="#fff" stroke="#8c8c8c" stroke-width="0.9"/>
<text transform="translate(426,90.9) scale(1,1.06)" font-size="10.1" text-anchor="start" fill="#111" stroke="#111" stroke-width="0.2" >V<tspan font-size="6.1" dy="3.5" stroke-width="0" fill="#333">IN_OFF</tspan><tspan dy="-3.5"> = 45.12 µV</tspan></text>
<rect x="446.7" y="30.8" width="64.8" height="32.4" fill="#fff" stroke="#8c8c8c" stroke-width="0.9"/>
<line x1="447.3" y1="37.8" x2="470.2" y2="37.8" stroke="#000" stroke-width="1.6"/>
<line x1="447.3" y1="53.8" x2="470.6" y2="53.8" stroke="#ff0000" stroke-width="1.5"/>
<text transform="translate(473,41.4) scale(1,1.05)" font-size="10" text-anchor="start" fill="#111" stroke="#111" stroke-width="0.2" >V<tspan font-size="9.3" dy="3.3">OUT11</tspan></text>
<text transform="translate(473,57.2) scale(1,1.05)" font-size="10" text-anchor="start" fill="#111" stroke="#111" stroke-width="0.2" >V<tspan font-size="9.3" dy="3.3">OUT22</tspan></text>
<text transform="translate(433.7,219.6) scale(1,1.06)" font-size="10" text-anchor="middle" fill="#111" stroke="#111" stroke-width="0.2" ><tspan font-style="italic">Time</tspan> [s]</text>
<text transform="translate(284.8,121.7) rotate(-90)" font-size="10.0" fill="#111" stroke="#111" stroke-width="0.2"><tspan font-style="italic">V</tspan><tspan font-size="5.9" dx="-0.2" dy="2.7" font-style="italic" stroke-width="0.12">OUT_OFF</tspan><tspan dy="-2.7"> [V]</tspan></text>
<text x="136.2" y="248.3" text-anchor="middle" font-family="Liberation Serif, serif" font-size="17.5" fill="#111">(<tspan font-weight="bold" font-size="16.5">a</tspan>)</text>
<text x="410.9" y="249" text-anchor="middle" font-family="Liberation Serif, serif" font-size="17.5" fill="#111">(<tspan font-weight="bold" font-size="16.8">b</tspan>)</text>
</svg>
</body></html>
